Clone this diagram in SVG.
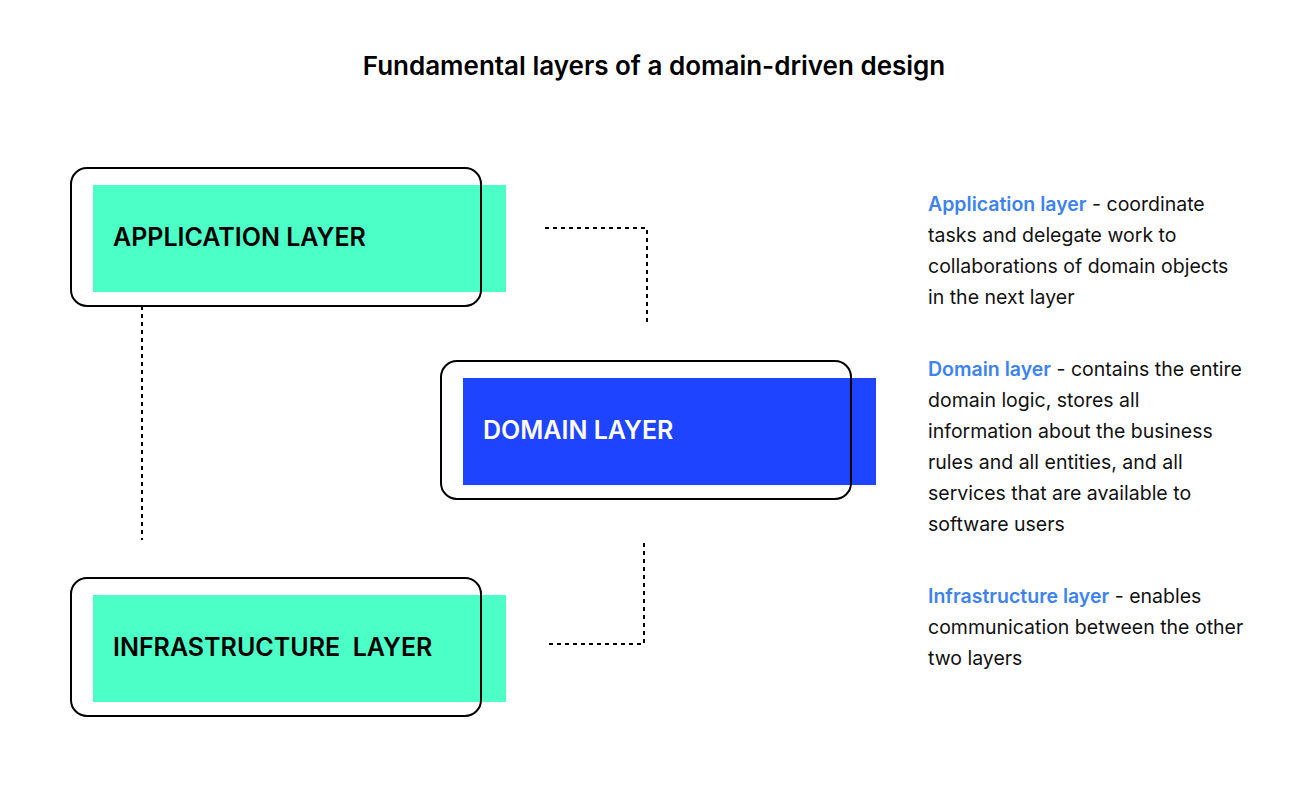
<svg xmlns="http://www.w3.org/2000/svg" width="1310" height="800" viewBox="0 0 1310 800">
<style>
.o{fill:none;stroke:#000;stroke-width:2}
.g{fill:#4BFFC7}
.lbl{font-family:Inter,"Liberation Sans",sans-serif;font-weight:600;font-size:25px}
.c{fill:none;stroke:#000;stroke-width:2;stroke-dasharray:4 4}
.t{font-family:Inter,"Liberation Sans",sans-serif;font-size:19.5px;fill:#111}
.b{fill:#3D82EE;font-weight:600}
</style>
<rect width="1310" height="800" fill="#fff"/>
<text x="654" y="75" text-anchor="middle" font-family="Inter,'Liberation Sans',sans-serif" font-weight="600" font-size="26">Fundamental layers of a domain-driven design</text>
<g id="connectors">
<path class="c" d="M545 228H647V324"/>
<path class="c" d="M142 306V540"/>
<path class="c" d="M644 543V644H548"/>
</g>
<g id="app">
<rect class="g" x="93" y="185" width="413" height="107"/>
<rect class="o" x="71" y="168" width="410" height="138" rx="16"/>
<text class="lbl" x="113" y="246">APPLICATION LAYER</text>
</g>
<g id="domain">
<rect fill="#1F44FF" x="463" y="378" width="413" height="107"/>
<rect class="o" x="441" y="361" width="410" height="138" rx="16"/>
<text class="lbl" x="483" y="439" fill="#fff">DOMAIN LAYER</text>
</g>
<g id="infra">
<rect class="g" x="93" y="595" width="413" height="107"/>
<rect class="o" x="71" y="578" width="410" height="138" rx="16"/>
<text class="lbl" x="113" y="656" xml:space="preserve">INFRASTRUCTURE  LAYER</text>
</g>
<g id="desc" class="t">
<text x="928" y="211"><tspan class="b">Application layer</tspan> - coordinate</text>
<text x="928" y="242">tasks and delegate work to</text>
<text x="928" y="273">collaborations of domain objects</text>
<text x="928" y="304">in the next layer</text>
<text x="928" y="376"><tspan class="b">Domain layer</tspan> - contains the entire</text>
<text x="928" y="407">domain logic, stores all</text>
<text x="928" y="438">information about the business</text>
<text x="928" y="469">rules and all entities, and all</text>
<text x="928" y="500">services that are available to</text>
<text x="928" y="531">software users</text>
<text x="928" y="603"><tspan class="b">Infrastructure layer</tspan> - enables</text>
<text x="928" y="634">communication between the other</text>
<text x="928" y="665">two layers</text>
</g>
</svg>
